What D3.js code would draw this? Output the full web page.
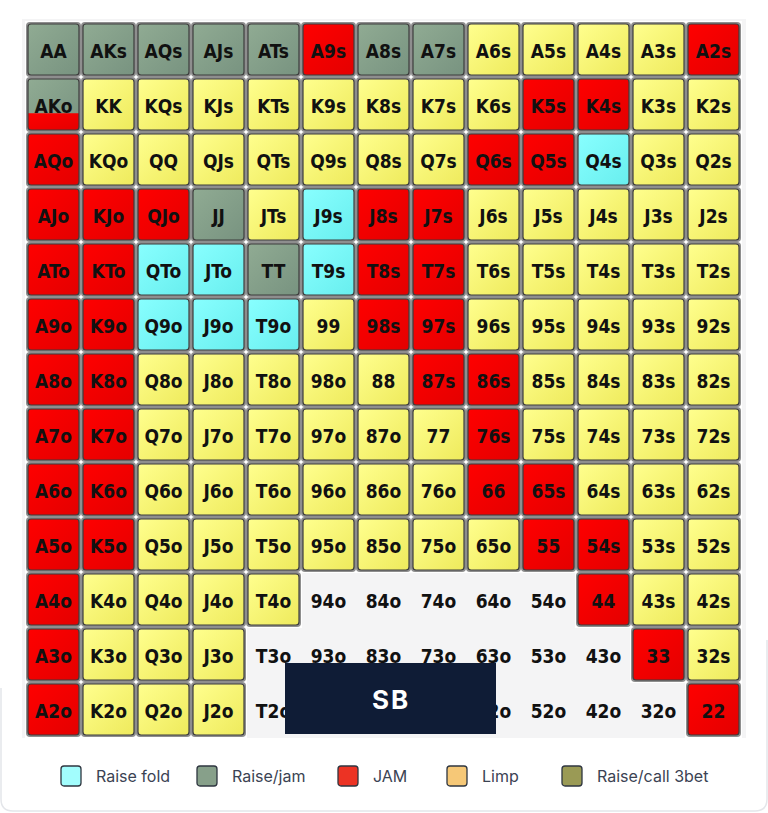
<!DOCTYPE html>
<html>
<head>
<meta charset="utf-8">
<script src="https://cdn.jsdelivr.net/npm/d3@7"></script>
<style>
  html, body { margin: 0; padding: 0; background: #fff; }
  svg { display: block; }
</style>
</head>
<body>
<main></main>
<script>
const WIDTH = 768
const HEIGHT = 813

// ranks, high to low
const ranks = ['A','K','Q','J','T','9','8','7','6','5','4','3','2']

// one string per row, one letter per column
// G = raise/jam, R = jam, Y = limp, C = raise fold, F = fold
const actionRows = [
  'GGGGGRGGYYYYR',
  'GYYYYYYYYRRYY',
  'RYYYYYYYRRCYY',
  'RRRGYCRRYYYYY',
  'RRCCGCRRYYYYY',
  'RRCCCYRRYYYYY',
  'RRYYYYYRRYYYY',
  'RRYYYYYYRYYYY',
  'RRYYYYYYRRYYY',
  'RRYYYYYYYRRYY',
  'RYYYYFFFFFRYY',
  'RYYYFFFFFFFRY',
  'RYYYFFFFFFFFR'
]

// hands split between two actions (bottom part share)
const splitHands = [ { hand: 'AKo', top: 'G', bottom: 'R', share: 0.33 } ]

const legendLabels = ['Raise fold', 'Raise/jam', 'JAM', 'Limp', 'Raise/call 3bet']
const legendColors = ['#a2fdfd', '#87a08a', '#ec3324', '#f6c877', '#9a9a55']

// cell fills: [top-left, bottom-right]
const cellColors = {
  G: ['#90ab93', '#789380'],
  R: ['#ff0000', '#e40000'],
  Y: ['#ffff8e', '#eeea5c'],
  C: ['#88ffff', '#68eeee']
}

const gridX = 26, gridY = 22, pitch = 55
const legendX = [61, 197, 338, 447, 562] // swatch left edges

const svg = d3.select('main').append('svg')
  .attr('width', WIDTH)
  .attr('height', HEIGHT)

const defs = svg.append('defs')
Object.keys(cellColors).forEach(k => {
  const g = defs.append('linearGradient')
    .attr('id', 'grad_' + k)
    .attr('x1', 0).attr('y1', 0).attr('x2', 1).attr('y2', 1)
  g.append('stop').attr('offset', '0%').attr('stop-color', cellColors[k][0])
  g.append('stop').attr('offset', '100%').attr('stop-color', cellColors[k][1])
})

// card outline behind everything
svg.append('path')
  .attr('d', 'M1,688 V799 Q1,811 13,811 H755 Q767,811 767,799 V640')
  .attr('fill', 'none')
  .attr('stroke', '#e4e6ea')
  .attr('stroke-width', 1.5)

// grey panel
svg.append('rect')
  .attr('x', 22).attr('y', 19)
  .attr('width', 724).attr('height', 719)
  .attr('fill', '#f4f4f5')

const x = d3.scaleBand().domain(d3.range(13)).range([gridX, gridX + 13 * pitch])
const y = d3.scaleBand().domain(d3.range(13)).range([gridY, gridY + 13 * pitch])

const handName = (r, c) => {
  if (r === c) return ranks[r] + ranks[c]
  if (c > r) return ranks[r] + ranks[c] + 's'
  return ranks[c] + ranks[r] + 'o'
}

const cells = []
actionRows.forEach((row, r) => {
  row.split('').forEach((a, c) => {
    cells.push({ r: r, c: c, action: a, hand: handName(r, c) })
  })
})

const colored = cells.filter(d => d.action !== 'F')

// white base so the corner gaps show white
svg.append('g').selectAll('rect')
  .data(colored)
  .enter()
  .append('rect')
  .attr('x', d => x(d.c) - 1)
  .attr('y', d => y(d.r) - 1)
  .attr('width', pitch + 2)
  .attr('height', pitch + 2)
  .attr('fill', '#fff')

// outer grey frame
svg.append('g').selectAll('rect')
  .data(colored)
  .enter()
  .append('rect')
  .attr('x', d => x(d.c))
  .attr('y', d => y(d.r))
  .attr('width', pitch)
  .attr('height', pitch)
  .attr('rx', 4)
  .attr('fill', '#8e8e8e')

svg.append('g').selectAll('rect')
  .data(colored)
  .enter()
  .append('rect')
  .attr('x', d => x(d.c) + 2)
  .attr('y', d => y(d.r) + 2)
  .attr('width', pitch - 4)
  .attr('height', pitch - 4)
  .attr('rx', 3)
  .attr('fill', d => `url(#grad_${d.action})`)

// split hands: paint the bottom share
splitHands.forEach(s => {
  const d = cells.find(e => e.hand === s.hand)
  const h = (pitch - 4) * s.share
  svg.append('path')
    .attr('d', () => {
      const x0 = x(d.c) + 2, x1 = x0 + pitch - 4
      const y1 = y(d.r) + pitch - 2, y0 = y1 - h
      return `M${x0},${y0} H${x1} V${y1 - 3} Q${x1},${y1} ${x1 - 3},${y1} H${x0 + 3} Q${x0},${y1} ${x0},${y1 - 3} Z`
    })
    .attr('fill', `url(#grad_${s.bottom})`)
})

// dark thin border on top
svg.append('g').selectAll('rect')
  .data(colored)
  .enter()
  .append('rect')
  .attr('x', d => x(d.c) + 2)
  .attr('y', d => y(d.r) + 2)
  .attr('width', pitch - 4)
  .attr('height', pitch - 4)
  .attr('rx', 3)
  .attr('fill', 'none')
  .attr('stroke', '#3d3d3d')
  .attr('stroke-width', 1.2)

// hand labels
svg.append('g').selectAll('text')
  .data(cells)
  .enter()
  .append('text')
  .attr('x', d => x(d.c) + pitch / 2)
  .attr('y', d => y(d.r) + pitch / 2 + 1)
  .attr('text-anchor', 'middle')
  .attr('dominant-baseline', 'central')
  .style('font-family', '"DejaVu Sans Condensed", "DejaVu Sans", sans-serif')
  .style('font-stretch', 'condensed')
  .style('font-weight', 'bold')
  .style('font-size', '19px')
  .style('fill', '#111')
  .text(d => d.hand)

// SB position box
svg.append('rect')
  .attr('x', 285).attr('y', 663)
  .attr('width', 211).attr('height', 71)
  .attr('fill', '#0f1c36')
svg.append('text')
  .attr('x', 391).attr('y', 709)
  .attr('text-anchor', 'middle')
  .style('font-family', 'Inter, Roboto, sans-serif')
  .style('font-weight', 'bold')
  .style('font-size', '26px')
  .style('letter-spacing', '2px')
  .style('fill', '#fff')
  .text('SB')

// legend
const items = svg.append('g').selectAll('g')
  .data(legendLabels)
  .enter()
  .append('g')
  .attr('transform', (d, i) => `translate(${legendX[i]},0)`)

items.append('rect')
  .attr('width', 20).attr('height', 20)
  .attr('y', 766)
  .attr('rx', 3)
  .attr('fill', (d, i) => legendColors[i])
  .attr('stroke', '#2f3640')
  .attr('stroke-width', 1.3)

items.append('text')
  .attr('x', 35)
  .attr('y', 782)
  .style('font-family', 'Inter, Roboto, sans-serif')
  .style('font-size', '16px')
  .style('fill', '#3b4353')
  .text(d => d)
</script>
</body>
</html>
